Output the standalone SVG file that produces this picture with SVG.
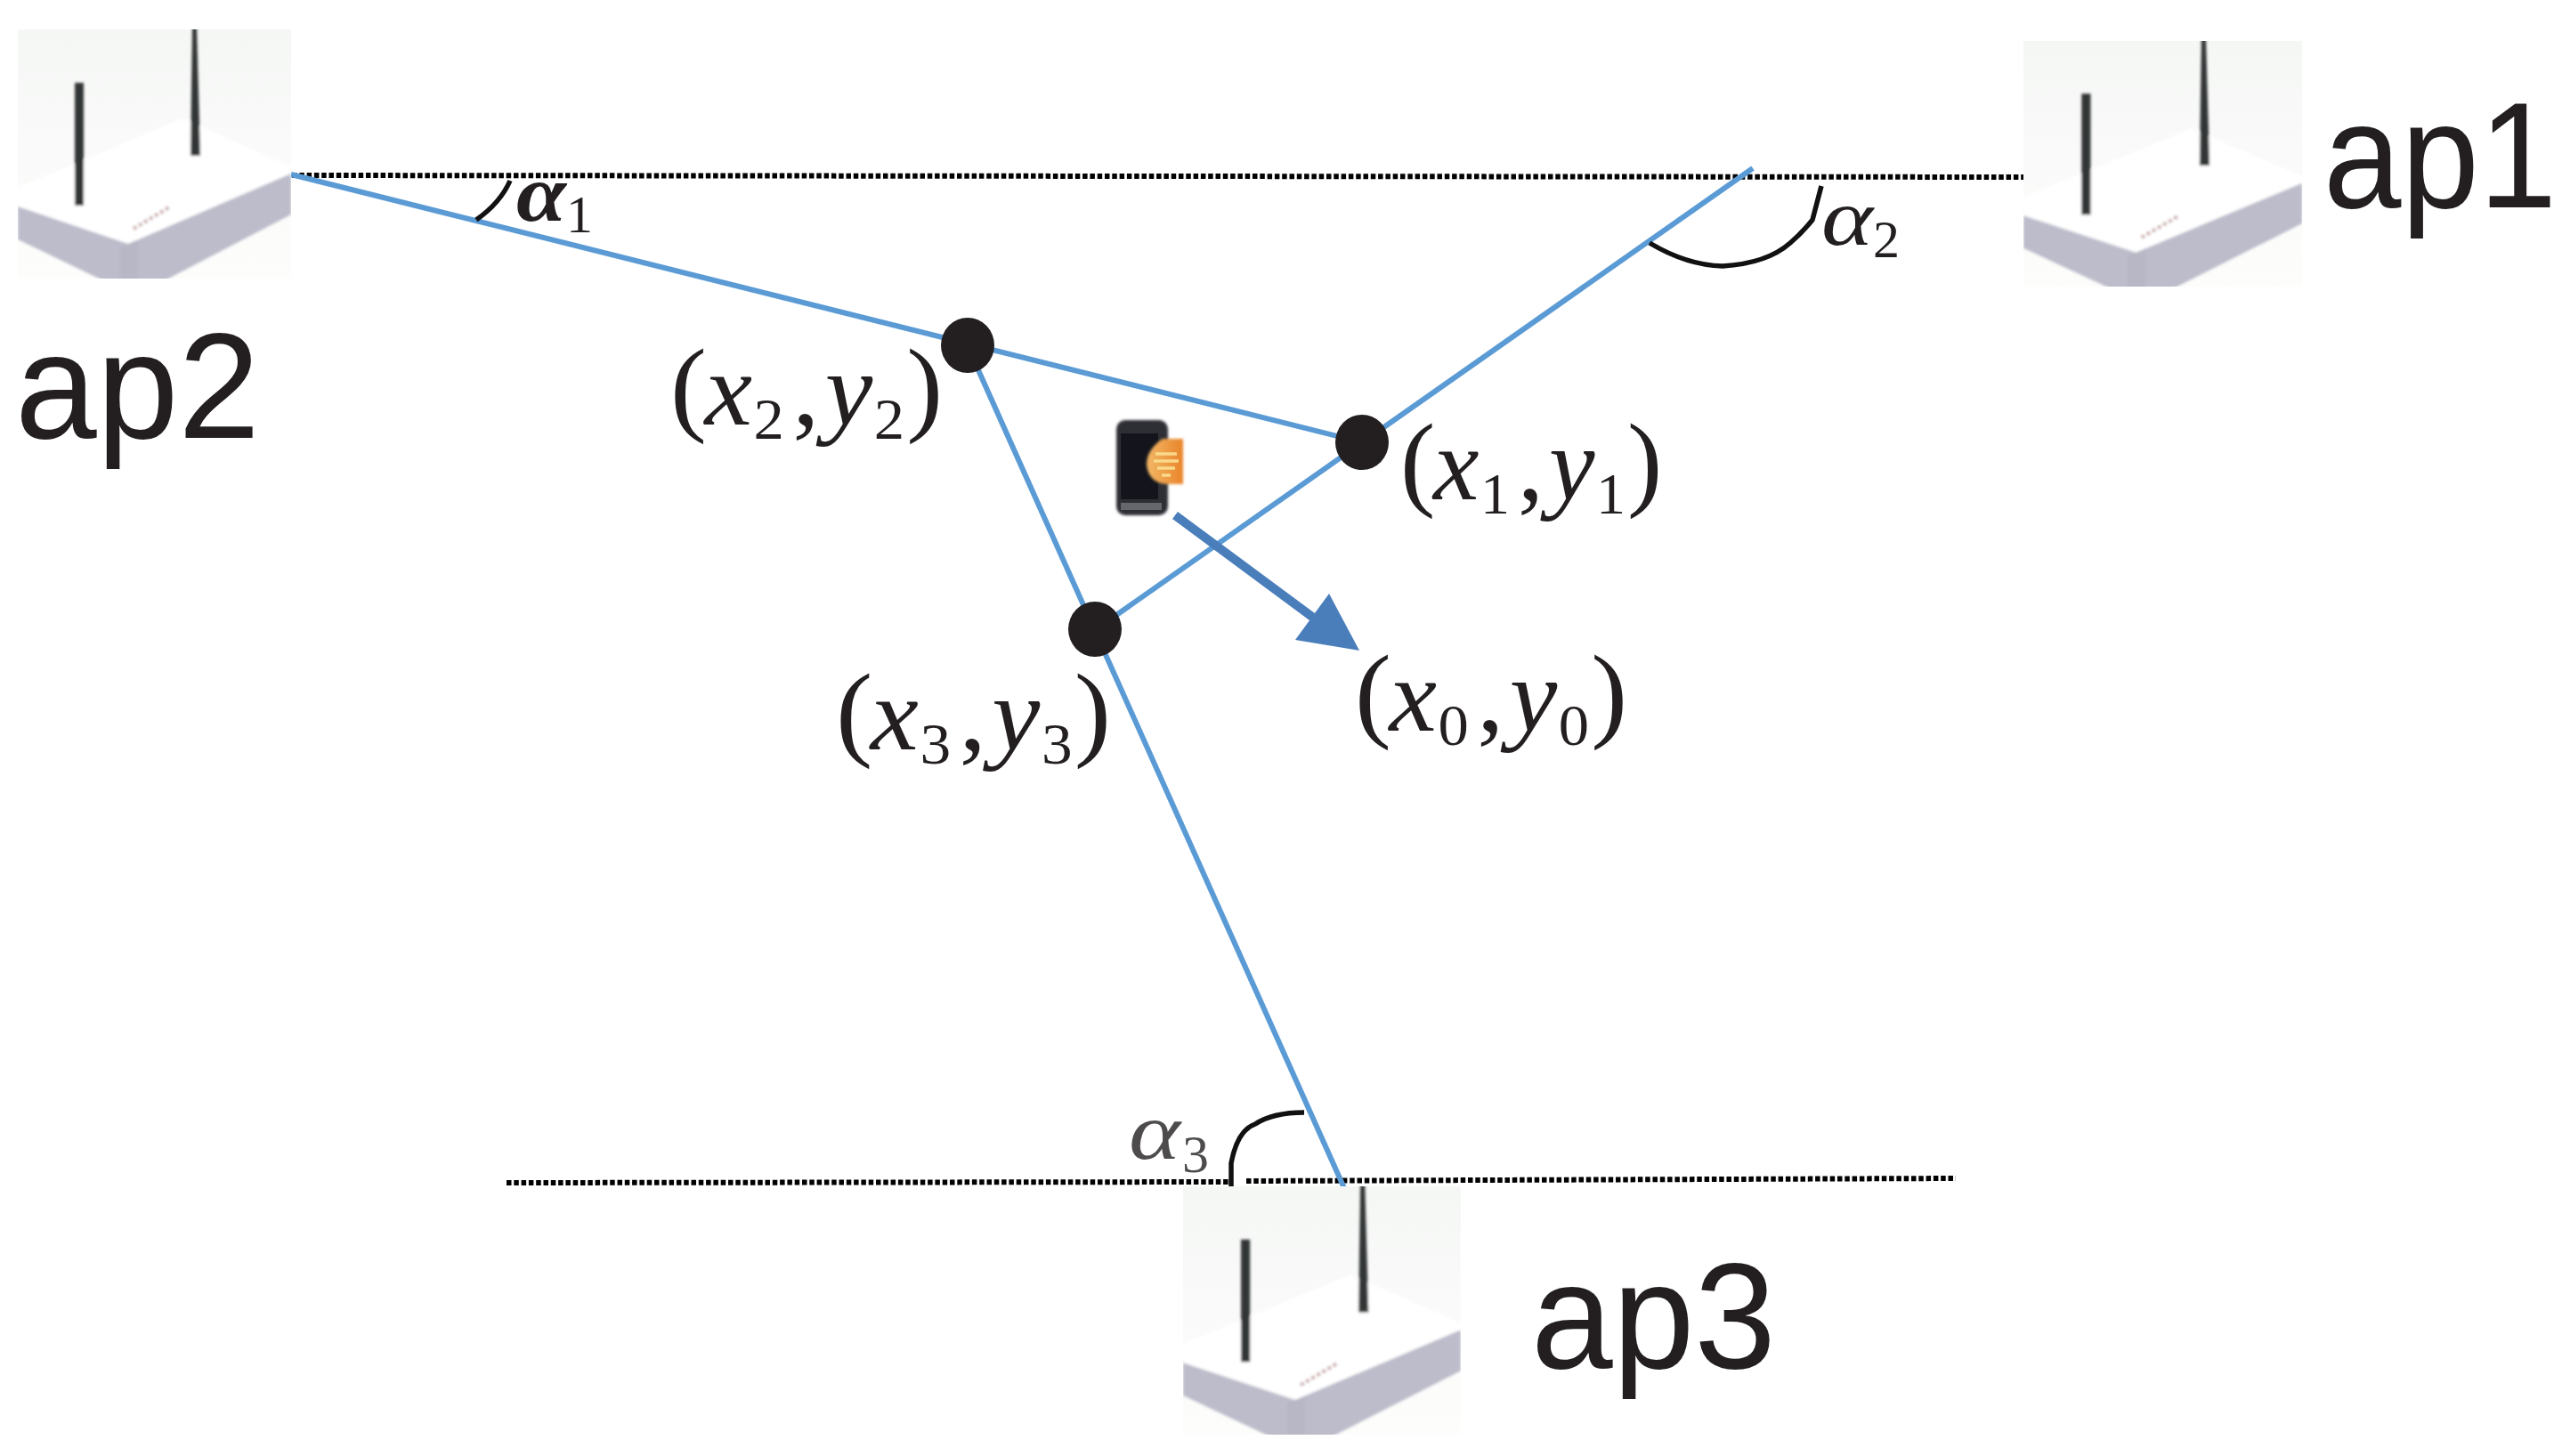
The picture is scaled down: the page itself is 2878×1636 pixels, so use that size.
<svg xmlns="http://www.w3.org/2000/svg" xmlns:xlink="http://www.w3.org/1999/xlink" width="2878" height="1636" viewBox="0 0 2878 1636">
<style>
.lab{font-family:"Liberation Sans",Arial,sans-serif;font-size:169px;fill:#231f20}
.m{font-family:"Liberation Serif","Times New Roman",serif;fill:#231f20}
.v{font-style:italic;font-size:116px}
.s{font-size:66px}
.p{font-size:118px}
.blue{stroke:#5b9bd5;stroke-width:6;fill:none}
.dot{stroke:#000;stroke-width:6;stroke-dasharray:5.5 2.8;fill:none}
.arc{stroke:#111;stroke-width:5.5;fill:none;stroke-linejoin:round}
.pt{fill:#231f20}
</style>
<defs>
<filter id="soft" x="-5%" y="-5%" width="110%" height="110%"><feGaussianBlur stdDeviation="1.4"/></filter>
<linearGradient id="apbg" x1="0" y1="0" x2="0" y2="1"><stop offset="0" stop-color="#f5f7f5"/><stop offset="0.45" stop-color="#f9faf9"/><stop offset="1" stop-color="#fdfdfb"/></linearGradient>
<linearGradient id="or" x1="0" y1="0" x2="1" y2="0"><stop offset="0" stop-color="#f3b866"/><stop offset="1" stop-color="#e8842a"/></linearGradient>
<clipPath id="apclip"><rect width="307" height="280"/></clipPath>
<g id="ap">
<rect width="307" height="280" fill="url(#apbg)"/>
<g clip-path="url(#apclip)"><g filter="url(#soft)">
<polygon points="0,178 185,100 320,160 124,246 0,205" fill="#fff"/>
<polygon points="0,199 124,241 307,162 307,208 150,290 112,290 0,236" fill="#bcbccb"/>
<polygon points="115,245 124,241 135,237 135,285 115,285" fill="#b4b4c2" opacity=".6"/>
<polygon points="64,60 74,60 74,198 64,198" fill="#333436"/>
<polygon points="196,-4 201,-4 205,142 194,142" fill="#333436"/>
<line x1="130" y1="224" x2="170" y2="200" stroke="#c9a9a9" stroke-width="4" stroke-dasharray="4 3"/>
</g></g>
</g>
<g id="coord">
<text class="m p" x="0" y="-3">(</text>
<text class="m p" x="255" y="-3">)</text>
<text class="m v" x="37" y="0">x</text>
<text class="m v" x="167" y="0">y</text>
<text class="m" x="132" y="0" font-size="116">,</text>
</g>
</defs>
<rect width="2878" height="1636" fill="#fff"/>

<g id="connectors">
<line class="dot" x1="328" y1="197" x2="2273" y2="199"/>
<line class="dot" x1="569" y1="1329" x2="1383" y2="1328"/>
<line class="dot" x1="1400" y1="1327" x2="2197" y2="1324"/>
<line class="blue" x1="327" y1="196" x2="1530" y2="497"/>
<line class="blue" x1="1969" y1="189" x2="1230" y2="708"/>
<line class="blue" x1="1087" y1="389" x2="1510" y2="1335"/>
<line x1="1320" y1="579" x2="1478" y2="696" stroke="#4a7ebb" stroke-width="10"/>
<polygon points="1527,731 1493,667 1455,719" fill="#4a7ebb"/>
<path class="arc" d="M535 247Q562 228 573 203"/>
<path class="arc" d="M2046 209L2036 247Q2024 262 2011 273Q1985 296 1935 299Q1895 298 1853 273"/>
<path class="arc" d="M1383 1333V1307Q1390 1270 1410 1263Q1430 1250 1465 1250"/>
</g>

<g id="ap2"><use xlink:href="#ap" href="#ap" transform="translate(20,33)"/><text class="lab" transform="translate(17,492) scale(.975,1)">ap2</text></g>
<g id="ap1"><use xlink:href="#ap" href="#ap" transform="translate(2273,46) scale(1.02,0.986)"/><text class="lab" transform="translate(2610,233) scale(.93,1)">ap1</text></g>
<g id="ap3"><use xlink:href="#ap" href="#ap" transform="translate(1329,1333) scale(1.016,0.996)"/><text class="lab" transform="translate(1720,1537) scale(.975,1)">ap3</text></g>

<g id="phone">
<rect x="1254" y="472" width="58" height="107" rx="10" fill="#2f2f35" filter="url(#soft)"/>
<rect x="1259" y="487" width="42" height="74" fill="#14151c"/>
<rect x="1259" y="565" width="46" height="8" fill="#66676c"/>
<path d="M1329 493H1306Q1288 505 1288 522Q1290 542 1310 544H1329Z" fill="url(#or)" filter="url(#soft)"/>
<path d="M1298 510H1322M1296 518H1324M1300 526H1320M1305 534H1315" stroke="#f9d98a" stroke-width="3.5" fill="none"/>
</g>

<g id="p1"><circle class="pt" cx="0" cy="0" r="1" transform="translate(1530,497) scale(30,31)"/></g>
<g id="p2"><circle class="pt" cx="0" cy="0" r="1" transform="translate(1087,388) scale(30,31)"/></g>
<g id="p3"><circle class="pt" cx="0" cy="0" r="1" transform="translate(1230,707) scale(30,31)"/></g>

<g id="label-x1y1" transform="translate(1573,561)"><use xlink:href="#coord" href="#coord"/><text class="m s" x="90" y="16">1</text><text class="m s" x="220" y="16">1</text></g>
<g id="label-x2y2" transform="translate(753,477) scale(1.04,1)"><use xlink:href="#coord" href="#coord"/><text class="m s" x="90" y="16">2</text><text class="m s" x="220" y="16">2</text></g>
<g id="label-x3y3" transform="translate(939,842) scale(1.05,1)"><use xlink:href="#coord" href="#coord"/><text class="m s" x="90" y="16">3</text><text class="m s" x="220" y="16">3</text></g>
<g id="label-x0y0" transform="translate(1522,821) scale(1.04,1)"><use xlink:href="#coord" href="#coord"/><text class="m s" x="90" y="16">0</text><text class="m s" x="220" y="16">0</text></g>

<g id="alpha1"><text class="m" x="580" y="248" font-size="92" font-style="italic" font-weight="bold" fill="#000" textLength="56" lengthAdjust="spacingAndGlyphs">α</text><text class="m" x="636" y="261" font-size="60">1</text></g>
<g id="alpha2"><text class="m" x="2046" y="275" font-size="92" font-style="italic" textLength="58" lengthAdjust="spacingAndGlyphs">α</text><text class="m" x="2104" y="289" font-size="60">2</text></g>
<g id="alpha3"><text class="m" x="1268" y="1302" font-size="92" font-style="italic" opacity=".8" textLength="58" lengthAdjust="spacingAndGlyphs">α</text><text class="m" x="1328" y="1317" font-size="60" opacity=".8">3</text></g>
</svg>
